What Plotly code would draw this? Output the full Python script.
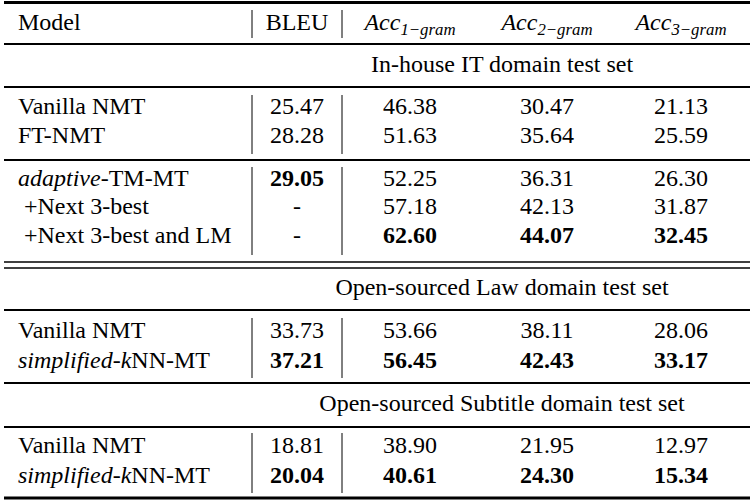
import plotly.graph_objects as go

# ---------- table content ----------
header = ["Model", "BLEU",
          "<i>Acc</i><sub><i>1−gram</i></sub>",
          "<i>Acc</i><sub><i>2−gram</i></sub>",
          "<i>Acc</i><sub><i>3−gram</i></sub>"]

sections = ["In-house IT domain test set",
            "Open-sourced Law domain test set",
            "Open-sourced Subtitle domain test set"]

models = ["Vanilla NMT", "FT-NMT",
          "<i>adaptive</i>-TM-MT", " +Next 3-best", " +Next 3-best and LM",
          "Vanilla NMT", "<i>simplified</i>-<i>k</i>NN-MT",
          "Vanilla NMT", "<i>simplified</i>-<i>k</i>NN-MT"]
bleu = [25.47, 28.28, 29.05, None, None, 33.73, 37.21, 18.81, 20.04]
acc1 = [46.38, 51.63, 52.25, 57.18, 62.60, 53.66, 56.45, 38.90, 40.61]
acc2 = [30.47, 35.64, 36.31, 42.13, 44.07, 38.11, 42.43, 21.95, 24.30]
acc3 = [21.13, 25.59, 26.30, 31.87, 32.45, 28.06, 33.17, 12.97, 15.34]

# which cells are bold (best in their block)
bold_bleu = [0, 0, 1, 0, 0, 0, 1, 0, 1]
bold_acc1 = [0, 0, 0, 0, 1, 0, 1, 0, 1]
bold_acc2 = [0, 0, 0, 0, 1, 0, 1, 0, 1]
bold_acc3 = [0, 0, 0, 0, 1, 0, 1, 0, 1]

# ---------- layout (pixel coordinates) ----------
W, H = 752, 502
row_y = [108, 137, 180, 208, 237, 332, 362, 447, 477]
header_y = 24
section_y = [66, 289, 405]
col_x = [18, 297, 410, 547, 681]
vline_x = [252, 342]
vline_spans = [(10, 38), (95, 154), (167, 255), (318, 378), (433, 493)]
rules = [(2.5, 3), (44, 1.8), (87, 1.8), (160, 1.8), (262, 1.5), (268, 1.5),
         (310, 1.8), (383, 1.8), (427, 1.8), (498, 3)]

FONT = dict(family="Liberation Serif, Times New Roman, serif", size=24, color="black")


def fmt(vals, flags):
    out = []
    for v, b in zip(vals, flags):
        s = "-" if v is None else f"{v:.2f}"
        out.append(f"<b>{s}</b>" if b else s)
    return out


fig = go.Figure()

# header
fig.add_trace(go.Scatter(x=[col_x[0]], y=[header_y], text=[header[0]], mode="text",
                         textposition="middle right", textfont=FONT, hoverinfo="skip"))
fig.add_trace(go.Scatter(x=col_x[1:], y=[header_y] * 4, text=header[1:], mode="text",
                         textposition="middle center", textfont=FONT, hoverinfo="skip"))

# section titles, centred over the metric columns
sec_x = (vline_x[0] + W) / 2
fig.add_trace(go.Scatter(x=[sec_x] * 3, y=section_y, text=sections, mode="text",
                         textposition="middle center", textfont=FONT, hoverinfo="skip"))

# body
fig.add_trace(go.Scatter(x=[col_x[0]] * len(models), y=row_y, text=models, mode="text",
                         textposition="middle right", textfont=FONT, hoverinfo="skip"))
for cx, vals, flags in zip(col_x[1:], [bleu, acc1, acc2, acc3],
                           [bold_bleu, bold_acc1, bold_acc2, bold_acc3]):
    fig.add_trace(go.Scatter(x=[cx] * len(vals), y=row_y, text=fmt(vals, flags), mode="text",
                             textposition="middle center", textfont=FONT, hoverinfo="skip"))

# rules
shapes = []
for y, w in rules:
    shapes.append(dict(type="line", xref="x", yref="y", x0=4, x1=750, y0=y, y1=y,
                       line=dict(color="black", width=w)))
for vx in vline_x:
    for y0, y1 in vline_spans:
        shapes.append(dict(type="line", xref="x", yref="y", x0=vx, x1=vx, y0=y0, y1=y1,
                           line=dict(color="black", width=1)))

fig.update_layout(
    width=W, height=H,
    margin=dict(l=0, r=0, t=0, b=0),
    paper_bgcolor="white", plot_bgcolor="white",
    showlegend=False,
    shapes=shapes,
    xaxis=dict(range=[0, W], visible=False, fixedrange=True),
    yaxis=dict(range=[H, 0], visible=False, fixedrange=True),
)

# drop the browser's default body margin so the table sits flush in the window
fig.write_html("out.html", config={"displayModeBar": False},
               post_script="document.body.style.margin='0';")
